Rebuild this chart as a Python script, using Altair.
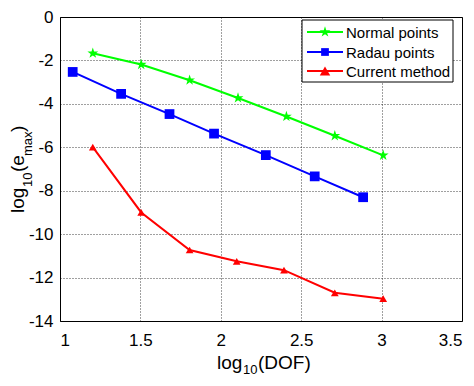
import altair as alt
import pandas as pd

# ---- data ----
series = ["Normal points", "Radau points", "Current method"]
colors = ["#00ff00", "#0000ff", "#ff0000"]

x_normal = [1.204, 1.505, 1.806, 2.107, 2.408, 2.709, 3.010]
y_normal = [-1.67, -2.19, -2.91, -3.73, -4.58, -5.47, -6.37]

x_radau = [1.079, 1.380, 1.681, 1.958, 2.280, 2.584, 2.885]
y_radau = [-2.53, -3.54, -4.47, -5.37, -6.36, -7.34, -8.30]

x_current = [1.204, 1.505, 1.806, 2.099, 2.393, 2.709, 3.010]
y_current = [-5.99, -9.00, -10.73, -11.25, -11.66, -12.70, -12.97]

x_ticks = [1, 1.5, 2, 2.5, 3, 3.5]
y_ticks = [0, -2, -4, -6, -8, -10, -12, -14]

FONT = "Liberation Sans"
STAR = ("M0,-1L0.2245,-0.309L0.951,-0.309L0.363,0.118L0.588,0.809L0,0.382"
        "L-0.588,0.809L-0.363,0.118L-0.951,-0.309L-0.2245,-0.309Z")
shapes = [STAR, "square", "triangle-up"]
sizes = [130, 60, 110]

rows = []
for name, xs, ys in [(series[0], x_normal, y_normal),
                     (series[1], x_radau, y_radau),
                     (series[2], x_current, y_current)]:
    for xv, yv in zip(xs, ys):
        rows.append({"series": name, "x": xv, "y": yv})
df = pd.DataFrame(rows)

TOP = 9
W, H = 402, 304

xenc = alt.X("x:Q", scale=alt.Scale(domain=[1, 3.5], nice=False, zero=False),
             axis=alt.Axis(values=x_ticks, title=None, labelExpr="'' + datum.value",
                           labelPadding=11, orient="bottom"))
yenc = alt.Y("y:Q", scale=alt.Scale(domain=[-14, 0], nice=False, zero=False),
             axis=alt.Axis(values=y_ticks, title=None, labelExpr="'' + datum.value",
                           labelPadding=7))
cenc = alt.Color("series:N", scale=alt.Scale(domain=series, range=colors), legend=None)

base = alt.Chart(df)
lines = base.mark_line(strokeWidth=2).encode(x=xenc, y=yenc, color=cenc, detail="series:N")
points = base.mark_point(filled=True, opacity=1).encode(
    x=xenc, y=yenc, color=cenc,
    shape=alt.Shape("series:N", scale=alt.Scale(domain=series, range=shapes), legend=None),
    size=alt.Size("series:N", scale=alt.Scale(domain=series, range=sizes), legend=None),
)

layers = [lines, points]

# ---- manual legend box ----
one = pd.DataFrame({"k": [0]})
layers.append(alt.Chart(one).mark_rect(fill="white", stroke="black", strokeWidth=1).encode(
    x=alt.value(242), x2=alt.value(393), y=alt.value(10 - TOP + 2), y2=alt.value(72 - TOP + 2)))
leg_y = [24, 44, 63]
for name, col, shp, sz, ly in zip(series, colors, shapes, sizes, leg_y):
    d = pd.DataFrame({"series": [name]})
    c = alt.Chart(d)
    layers.append(c.mark_rule(strokeWidth=2, color=col).encode(
        x=alt.value(247), x2=alt.value(283), y=alt.value(ly - TOP)))
    layers.append(c.mark_point(filled=True, opacity=1, color=col, shape=shp, size=sz).encode(
        x=alt.value(265), y=alt.value(ly - TOP)))
    layers.append(c.mark_text(align="left", baseline="middle", font=FONT, fontSize=15,
                              color="black").encode(
        text="series:N", x=alt.value(286), y=alt.value(ly + 1 - TOP)))

# ---- axis titles with subscripts ----
def piece(txt, x, y, size, angle=0):
    return alt.Chart(pd.DataFrame({"t": [txt]})).mark_text(
        align="left", baseline="alphabetic", font=FONT, fontSize=size,
        color="black", angle=angle).encode(text="t:N", x=alt.value(x), y=alt.value(y))

# x title: log10(DOF)
layers += [piece("log", 157, 361 - TOP, 19), piece("10", 183, 366 - TOP, 13),
           piece("(DOF)", 198, 361 - TOP, 19)]
# y title: log10(e_max), rotated
layers += [
    piece("log", -36, 205 - TOP, 19, 270),
    piece("10", -28, 179 - TOP, 13, 270),
    piece("(e", -36, 164 - TOP, 19, 270),
    piece("max", -28, 148 - TOP, 13, 270),
    piece(")", -36, 124 - TOP, 19, 270),
]

chart = alt.layer(*layers).properties(
    width=W, height=H,
    autosize=alt.AutoSizeParams(type="none"),
    padding={"left": 52, "top": TOP, "right": 4, "bottom": 57},
).configure(background="white").configure_view(stroke="black", strokeWidth=1).configure_axis(
    domain=False, ticks=False, grid=True, gridColor="#000000", gridDash=[1, 2],
    gridOpacity=0.75, gridWidth=1, labelFont=FONT, labelFontSize=17,
    labelColor="black",
)

chart.save("out.html", embed_options={"renderer": "svg", "actions": False})
